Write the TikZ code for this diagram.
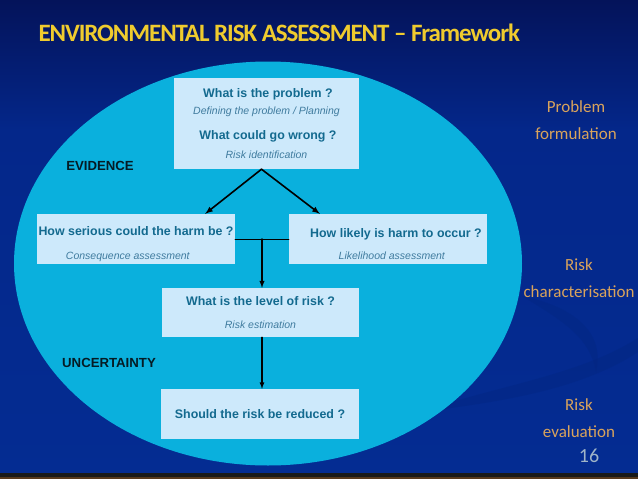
\documentclass[tikz,border=0pt]{standalone}
\usepackage{fontspec}
\setmainfont{Liberation Sans}
\newfontfamily\titlefont{Carlito}
\newfontfamily\headfont[LetterSpace=-4.3]{Carlito}
\usetikzlibrary{positioning}

\definecolor{navytop}{HTML}{04135A}
\definecolor{navymid}{HTML}{04278A}
\definecolor{navylow}{HTML}{042C92}
\definecolor{swoosh}{HTML}{03257F}
\definecolor{lagoon}{HTML}{0AB0DD}
\definecolor{boxfill}{HTML}{CDE9FB}
\definecolor{asktext}{HTML}{136A8F}
\definecolor{subtext}{HTML}{3F7B9E}
\definecolor{sidetext}{HTML}{D9A35C}
\definecolor{headtext}{HTML}{EFCB2E}
\definecolor{pagetext}{HTML}{9FB4C8}

\newcommand{\askline}[1]{\textcolor{asktext}{\textbf{#1}}}
\newcommand{\subline}[1]{\textcolor{subtext}{\fontsize{10.5}{12}\selectfont\textit{#1}}}

\begin{document}
\begin{tikzpicture}[x=1pt, y=-1pt, cap=round]

    % Styles
    \tikzstyle{stagebox}=[fill=boxfill, inner sep=0pt, align=center, font=\fontsize{12.4}{14}\selectfont]
    \tikzstyle{side}=[text=sidetext, align=center, font=\titlefont\fontsize{17}{27}\selectfont]
    \tikzstyle{margin}=[text=black!75!asktext, font=\bfseries\fontsize{13.2}{15}\selectfont]
    \tikzstyle{link}=[-latex, black, line width=1.6pt]

    % slide background
    \useasboundingbox (0,0) rectangle (638,479);
    \shade[top color=navytop, bottom color=navymid] (0,0) rectangle (638,130);
    \shade[top color=navymid, bottom color=navylow] (0,130) rectangle (638,479);
    \fill[swoosh, opacity=0.4] (420,412) .. controls (500,385) and (580,375) .. (638,338) -- (638,352) .. controls (580,390) and (500,402) .. (420,412);
    \fill[swoosh, opacity=0.4] (522,296) .. controls (570,306) and (606,330) .. (596,372) .. controls (590,338) and (565,322) .. (522,296);
    \fill[black!90] (0,473) rectangle (638,479);
    \fill[black!55!brown] (0,477) rectangle (638,479);

    % the big ellipse
    \fill[lagoon] (268,263.5) ellipse [x radius=254, y radius=202];

    \node (title) [text=headtext, anchor=base west] at (35,41.5)
        {\headfont\bfseries\fontsize{25}{30}\selectfont ENVIRONMENTAL RISK ASSESSMENT – Framework};

    % boxes
    \node (problem) [stagebox, minimum width=185pt, minimum height=91pt] at (266.5,123.5)
        {\hspace*{3pt}\askline{What is the problem ?}\\[3pt]
         \subline{Defining the problem / Planning}\\[11pt]
         \hspace*{3pt}\askline{What could go wrong ?}\\[5.5pt]
         \subline{Risk identification}};
    \node (serious) [stagebox, minimum width=198pt, minimum height=50pt] at (136,239)
        {\rule{0pt}{19pt}\askline{How serious could the harm be ?}\\[10pt]
         \subline{Consequence assessment}\hspace*{16pt}};
    \node (likely) [stagebox, minimum width=198pt, minimum height=50pt] at (388,239)
        {\rule{0pt}{19pt}\hspace*{16pt}\askline{How likely is harm to occur ?}\\[8.5pt]
         \hspace*{8pt}\subline{Likelihood assessment}};
    \node (level) [stagebox, minimum width=197pt, minimum height=49pt] at (260.5,312.5)
        {\askline{What is the level of risk ?}\\[9pt]
         \subline{Risk estimation}};
    \node (reduce) [stagebox, minimum width=198pt, minimum height=50pt] at (260,414)
        {\askline{Should the risk be reduced ?}};

    % labels on the ellipse
    \node (evidence) [margin] at (100,166) {EVIDENCE};
    \node (uncertainty) [margin] at (109,363) {UNCERTAINTY};

    % labels on the right
    \node (formulation) [side] at (576,120.5) {Problem\\formulation};
    \node (character) [side] at (579,278.5) {Risk\\characterisation};
    \node (evaluation) [side] at (579,418.5) {Risk\\evaluation};
    \node (pageno) [text=pagetext, font=\titlefont\fontsize{20}{22}\selectfont] at (589,456) {16};

    % connectors
    \draw[link] ([xshift=-5pt]problem.south) -- ([xshift=-30pt]serious.north east);
    \draw[link] ([xshift=-5pt]problem.south) -- ([xshift=31pt]likely.north west);
    \draw[black, line width=1pt] (serious) -- (likely) coordinate[midway] (join);
    \draw[link, line width=1.4pt] (join) -- (join |- level.north);
    \draw[link, line width=1.2pt] (join |- level.south) -- (join |- reduce.north);

\end{tikzpicture}
\end{document}
